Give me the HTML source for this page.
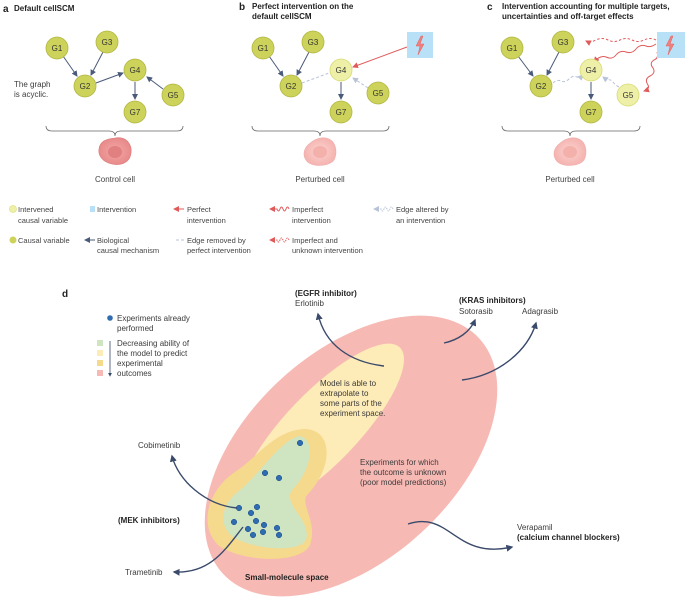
<!DOCTYPE html>
<html><head><meta charset="utf-8"><style>
html,body{margin:0;padding:0;background:#fff;overflow:hidden;width:685px;height:598px;}
svg{display:block;font-family:"Liberation Sans",sans-serif;}
.t{font-size:8px;fill:#3b3b3b;}
.b{font-size:8px;font-weight:bold;fill:#222;}
.n{font-size:8px;fill:#333;text-anchor:middle;}
.L{font-size:7.5px;fill:#444;}
</style></head><body>
<svg width="685" height="598" viewBox="0 0 685 598" xmlns="http://www.w3.org/2000/svg" overflow="hidden">
<defs>
<clipPath id="cp"><rect x="0" y="0" width="685" height="598"/></clipPath>
<marker id="an" markerWidth="6" markerHeight="6" refX="5" refY="3" orient="auto"><path d="M0,0 L6,3 L0,6 z" fill="#4a5a7a"/></marker>
<marker id="ar" markerWidth="6" markerHeight="6" refX="5" refY="3" orient="auto"><path d="M0,0 L6,3 L0,6 z" fill="#e05a5a"/></marker>
<marker id="ag" markerWidth="6" markerHeight="6" refX="5" refY="3" orient="auto"><path d="M0,0 L6,3 L0,6 z" fill="#b9c3d8"/></marker>
<marker id="ad" markerWidth="5" markerHeight="5" refX="4" refY="2.5" orient="auto"><path d="M0,0 L5,2.5 L0,5 z" fill="#3a4a6b"/></marker>
<radialGradient id="cell" cx="0.5" cy="0.5" r="0.5"><stop offset="0" stop-color="#f4a7a7"/><stop offset="1" stop-color="#e88a8a"/></radialGradient>
<radialGradient id="cellp" cx="0.5" cy="0.5" r="0.5"><stop offset="0" stop-color="#fbd3d0"/><stop offset="1" stop-color="#f5b4b0"/></radialGradient>
</defs>
<g clip-path="url(#cp)">
<!-- Panel a -->
<text x="3" y="12" class="b" style="font-size:10px">a</text>
<text x="14" y="11" class="b">Default cellSCM</text>
<g stroke="#4a5a7a" stroke-width="1" marker-end="url(#an)">
<line x1="63" y1="56" x2="77" y2="76"/><line x1="103" y1="52" x2="91" y2="75"/>
<line x1="96" y1="83" x2="123" y2="73"/><line x1="163" y1="89" x2="147" y2="77"/><line x1="135" y1="82" x2="135" y2="99"/>
</g>
<g fill="#cdd35a" stroke="#b0b540" stroke-width="0.8">
<circle cx="57" cy="48" r="11"/><circle cx="107" cy="42" r="11"/><circle cx="85" cy="86" r="11"/><circle cx="135" cy="70" r="11"/><circle cx="173" cy="95" r="11"/><circle cx="135" cy="112" r="11"/>
</g>
<text x="57" y="51" class="n">G1</text><text x="107" y="45" class="n">G3</text><text x="85" y="89" class="n">G2</text><text x="135" y="73" class="n">G4</text><text x="173" y="98" class="n">G5</text><text x="135" y="115" class="n">G7</text>
<text x="14" y="87" class="t">The graph</text><text x="14" y="97" class="t">is acyclic.</text>
<path d="M46,126 Q46,131 52,131 L109,131 Q115,131 115,136 Q115,131 121,131 L177,131 Q183,131 183,126" fill="none" stroke="#666" stroke-width="0.8"/>
<path d="M115,138 C128,136 132,146 131,153 C130,163 120,166 112,164 C102,162 98,155 99,149 C100,141 106,139 115,138Z" fill="url(#cell)" stroke="#d77" stroke-width="0.6"/>
<ellipse cx="115" cy="152" rx="7" ry="6" fill="#e08080"/>
<text x="115" y="182" class="n" style="fill:#444">Control cell</text>

<!-- Panel b -->
<text x="239" y="10" class="b" style="font-size:10px">b</text>
<text x="252" y="9" class="b">Perfect intervention on the</text>
<text x="252" y="19" class="b">default cellSCM</text>
<g stroke="#4a5a7a" stroke-width="1" marker-end="url(#an)">
<line x1="269" y1="56" x2="283" y2="76"/><line x1="309" y1="52" x2="297" y2="75"/><line x1="341" y1="82" x2="341" y2="99"/>
</g>
<line x1="302" y1="83" x2="329" y2="73" stroke="#b9c3d8" stroke-dasharray="3,2"/>
<line x1="368" y1="88" x2="353" y2="78" stroke="#b9c3d8" stroke-dasharray="3,2" marker-end="url(#ag)"/>
<line x1="407" y1="47" x2="353" y2="67" stroke="#e05a5a" stroke-width="1" marker-end="url(#ar)"/>
<rect x="407" y="32" width="26" height="26" fill="#b8e1f7"/>
<path d="M421,36 L416,46 L420,46 L418,55 L424,44 L420,44 L423,36Z" fill="#f08080" stroke="#e06060" stroke-width="0.5"/>
<g fill="#cdd35a" stroke="#b0b540" stroke-width="0.8">
<circle cx="263" cy="48" r="11"/><circle cx="313" cy="42" r="11"/><circle cx="291" cy="86" r="11"/><circle cx="378" cy="93" r="11"/><circle cx="341" cy="112" r="11"/>
</g>
<circle cx="341" cy="70" r="11" fill="#eef0a8" stroke="#d6da70" stroke-width="0.8"/>
<text x="263" y="51" class="n">G1</text><text x="313" y="45" class="n">G3</text><text x="291" y="89" class="n">G2</text><text x="341" y="73" class="n">G4</text><text x="378" y="96" class="n">G5</text><text x="341" y="115" class="n">G7</text>
<path d="M252,126 Q252,131 258,131 L314,131 Q320,131 320,136 Q320,131 326,131 L383,131 Q389,131 389,126" fill="none" stroke="#666" stroke-width="0.8"/>
<path d="M326,138 C336,140 338,152 334,160 C330,166 316,167 309,163 C302,158 303,150 308,145 C314,139 320,137 326,138Z" fill="url(#cellp)" stroke="#eaa" stroke-width="0.6"/>
<ellipse cx="320" cy="152" rx="7" ry="6" fill="#f4b0ab"/>
<text x="320" y="182" class="n" style="fill:#444">Perturbed cell</text>

<!-- Panel c -->
<text x="487" y="10" class="b" style="font-size:10px">c</text>
<text x="502" y="9" class="b">Intervention accounting for multiple targets,</text>
<text x="502" y="19" class="b">uncertainties and off-target effects</text>
<g stroke="#4a5a7a" stroke-width="1" marker-end="url(#an)">
<line x1="518" y1="56" x2="533" y2="76"/><line x1="559" y1="52" x2="547" y2="75"/><line x1="591" y1="82" x2="591" y2="99"/>
</g>
<path d="M553,83 q4,-4 8,-2 q4,2 8,-2 q4,-4 8,-2 q3,1 6,-2" fill="none" stroke="#b9c3d8" stroke-dasharray="3,2" marker-end="url(#ag)"/>
<path d="M619,87 q-4,-2 -6,-5 q-2,-3 -6,-2 l-4,-3" fill="none" stroke="#b9c3d8" stroke-dasharray="3,2" marker-end="url(#ag)"/>
<path d="M656,40 q-6,-3 -12,0 q-6,3 -12,0 q-6,-3 -12,0 q-6,3 -12,0 q-6,-3 -12,0 q-6,3 -10,1" fill="none" stroke="#e05a5a" stroke-dasharray="2.5,2" marker-end="url(#ar)"/>
<path d="M656,44 q-6,4 -10,2 q-6,-2 -10,3 q-4,5 -10,3 q-6,-2 -10,3 q-4,5 -10,2 q-6,-2 -12,5" fill="none" stroke="#e05a5a" marker-end="url(#ar)"/>
<path d="M657,52 q2,6 -3,8 q-5,3 -1,8 q3,5 -3,8 q-6,3 -2,9 q2,4 -4,6" fill="none" stroke="#e05a5a" marker-end="url(#ar)"/>
<rect x="657" y="32" width="28" height="26" fill="#b8e1f7"/>
<path d="M671,36 L666,46 L670,46 L668,55 L674,44 L670,44 L673,36Z" fill="#f08080" stroke="#e06060" stroke-width="0.5"/>
<g fill="#cdd35a" stroke="#b0b540" stroke-width="0.8">
<circle cx="512" cy="48" r="11"/><circle cx="563" cy="42" r="11"/><circle cx="541" cy="86" r="11"/><circle cx="591" cy="112" r="11"/>
</g>
<circle cx="591" cy="70" r="11" fill="#eef0a8" stroke="#d6da70" stroke-width="0.8"/>
<circle cx="628" cy="95" r="11" fill="#eef0a8" stroke="#d6da70" stroke-width="0.8"/>
<text x="512" y="51" class="n">G1</text><text x="563" y="45" class="n">G3</text><text x="541" y="89" class="n">G2</text><text x="591" y="73" class="n">G4</text><text x="628" y="98" class="n">G5</text><text x="591" y="115" class="n">G7</text>
<path d="M502,126 Q502,131 508,131 L564,131 Q570,131 570,136 Q570,131 576,131 L634,131 Q640,131 640,126" fill="none" stroke="#666" stroke-width="0.8"/>
<path d="M576,138 C586,140 588,152 584,160 C580,166 566,167 559,163 C552,158 553,150 558,145 C564,139 570,137 576,138Z" fill="url(#cellp)" stroke="#eaa" stroke-width="0.6"/>
<ellipse cx="570" cy="152" rx="7" ry="6" fill="#f4b0ab"/>
<text x="570" y="182" class="n" style="fill:#444">Perturbed cell</text>

<!-- Legend -->
<circle cx="13" cy="209" r="3.5" fill="#eef0a8" stroke="#d6da70" stroke-width="0.6"/>
<text x="18" y="212" class="L">Intervened</text><text x="18" y="223" class="L">causal variable</text>
<circle cx="13" cy="240" r="3.5" fill="#cdd35a"/>
<text x="18" y="243" class="L">Causal variable</text>
<rect x="90" y="206" width="5" height="6" fill="#b8e1f7"/>
<text x="97" y="212" class="L">Intervention</text>
<line x1="95" y1="240" x2="85" y2="240" stroke="#4a5a7a" marker-end="url(#an)"/>
<text x="97" y="243" class="L">Biological</text><text x="97" y="253" class="L">causal mechanism</text>
<line x1="184" y1="209" x2="174" y2="209" stroke="#e05a5a" marker-end="url(#ar)"/>
<text x="187" y="212" class="L">Perfect</text><text x="187" y="223" class="L">intervention</text>
<line x1="184" y1="240" x2="174" y2="240" stroke="#b9c3d8" stroke-dasharray="3,2"/>
<text x="187" y="243" class="L">Edge removed by</text><text x="187" y="253" class="L">perfect intervention</text>
<path d="M289,209 q-1.5,-4 -3,0 q-1.5,4 -3,0 q-1.5,-4 -3,0 q-1.5,4 -3,0 l-7,0" fill="none" stroke="#e05a5a" marker-end="url(#ar)"/>
<text x="292" y="212" class="L">Imperfect</text><text x="292" y="223" class="L">intervention</text>
<path d="M289,240 q-1.5,-4 -3,0 q-1.5,4 -3,0 q-1.5,-4 -3,0 q-1.5,4 -3,0 l-7,0" fill="none" stroke="#e05a5a" stroke-dasharray="1.5,1" marker-end="url(#ar)"/>
<text x="292" y="243" class="L">Imperfect and</text><text x="292" y="253" class="L">unknown intervention</text>
<path d="M393,209 q-1.5,-4 -3,0 q-1.5,4 -3,0 q-1.5,-4 -3,0 q-1.5,4 -3,0 l-7,0" fill="none" stroke="#b9c3d8" stroke-dasharray="1.5,1" marker-end="url(#ag)"/>
<text x="396" y="212" class="L">Edge altered by</text><text x="396" y="223" class="L">an intervention</text>

<!-- Panel d -->
<text x="62" y="297" class="b" style="font-size:10px">d</text>
<ellipse cx="351" cy="456" rx="174" ry="104" transform="rotate(-42.5 351 456)" fill="#f7b9b4"/>
<ellipse cx="322" cy="428" rx="112" ry="36" transform="rotate(-46 322 428)" fill="#fdebb8"/>
<path d="M305,429 C335,430 332,470 307,495 C300,505 318,522 310,545 C300,565 240,562 218,545 C198,525 208,490 235,472 C260,455 275,430 305,429Z" fill="#f5d98c"/>
<path d="M300,436 C316,440 312,470 292,490 C282,505 312,520 306,540 C298,554 250,549 232,536 C216,522 224,502 240,490 C260,474 280,440 300,436Z" fill="#cfe5c2"/>
<g fill="#2f6db0" stroke="#1f4f8a" stroke-width="0.5">
<circle cx="300" cy="443" r="2.8"/><circle cx="265" cy="473" r="2.8"/><circle cx="279" cy="478" r="2.8"/><circle cx="239" cy="508" r="2.8"/><circle cx="251" cy="513" r="2.8"/><circle cx="257" cy="507" r="2.8"/><circle cx="234" cy="522" r="2.8"/><circle cx="256" cy="521" r="2.8"/><circle cx="264" cy="525" r="2.8"/><circle cx="277" cy="528" r="2.8"/><circle cx="248" cy="529" r="2.8"/><circle cx="253" cy="535" r="2.8"/><circle cx="263" cy="532" r="2.8"/><circle cx="279" cy="535" r="2.8"/>
</g>
<circle cx="110" cy="318" r="2.8" fill="#2f6db0"/>
<text x="117" y="321" class="t">Experiments already</text><text x="117" y="331" class="t">performed</text>
<rect x="97" y="340" width="6" height="6" fill="#cfe5c2"/><rect x="97" y="350" width="6" height="6" fill="#fdebb8"/><rect x="97" y="360" width="6" height="6" fill="#f5d98c"/><rect x="97" y="370" width="6" height="6" fill="#f7b9b4"/>
<line x1="110" y1="341" x2="110" y2="376" stroke="#3a4a6b" stroke-width="0.8" marker-end="url(#ad)"/>
<text x="117" y="346" class="t">Decreasing ability of</text><text x="117" y="356" class="t">the model to predict</text><text x="117" y="366" class="t">experimental</text><text x="117" y="376" class="t">outcomes</text>
<text x="295" y="296" class="b">(EGFR inhibitor)</text><text x="295" y="306" class="t">Erlotinib</text>
<text x="459" y="303" class="b">(KRAS inhibitors)</text>
<text x="459" y="314" class="t">Sotorasib</text><text x="522" y="314" class="t">Adagrasib</text>
<text x="320" y="386" class="t">Model is able to</text><text x="320" y="396" class="t">extrapolate to</text><text x="320" y="406" class="t">some parts of the</text><text x="320" y="416" class="t">experiment space.</text>
<text x="360" y="465" class="t">Experiments for which</text><text x="360" y="475" class="t">the outcome is unknown</text><text x="360" y="485" class="t">(poor model predictions)</text>
<text x="138" y="448" class="t">Cobimetinib</text>
<text x="118" y="523" class="b">(MEK inhibitors)</text>
<text x="125" y="575" class="t">Trametinib</text>
<text x="245" y="580" class="b">Small-molecule space</text>
<text x="517" y="530" class="t">Verapamil</text><text x="517" y="540" class="b">(calcium channel blockers)</text>
<g fill="none" stroke="#3a4a6b" stroke-width="1.4" marker-end="url(#ad)">
<path d="M384,366 C350,362 325,345 318,314"/>
<path d="M444,343 C458,340 470,332 475,320"/>
<path d="M462,380 C500,375 528,350 536,323"/>
<path d="M237,508 C205,505 178,480 172,456"/>
<path d="M243,527 C225,550 210,574 174,572"/>
<path d="M408,524 C450,510 455,560 512,547"/>
</g>
</g>
</svg>
</body></html>
